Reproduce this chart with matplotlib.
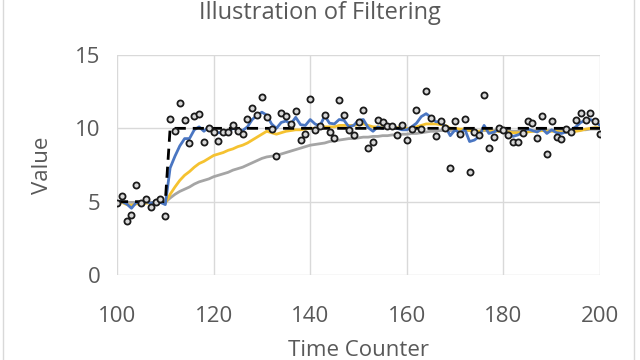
import matplotlib.pyplot as plt
from matplotlib.lines import Line2D
import numpy as np

# time counter 100..200
t = list(range(100, 201))

measured = [
    4.91, 5.41, 3.70, 4.11, 6.13, 4.89, 5.20, 4.64, 5.00, 5.18,   # 100-109
    4.00, 10.66, 9.84, 11.75, 10.60, 8.98, 10.84, 10.95, 9.05, 10.02,   # 110-119
    9.72, 9.13, 9.72, 9.72, 10.25, 9.84, 9.59, 10.66, 11.41, 10.93,   # 120-129
    12.15, 10.79, 9.97, 8.11, 11.02, 10.84, 10.27, 11.18, 9.18, 9.61,   # 130-139
    12.02, 9.86, 10.18, 10.93, 9.77, 9.36, 11.91, 10.93, 9.88, 9.54,   # 140-149
    10.43, 11.25, 8.63, 9.04, 10.57, 10.45, 10.16, 10.16, 9.54, 10.25,   # 150-159
    9.20, 9.97, 11.25, 9.93, 12.56, 10.70, 9.50, 10.48, 10.02, 7.27,   # 160-169
    10.48, 9.61, 10.63, 7.00, 9.73, 9.54, 12.27, 8.63, 9.38, 10.04,   # 170-179
    9.86, 9.52, 9.09, 9.09, 9.70, 10.48, 10.34, 9.32, 10.86, 8.25,   # 180-189
    10.50, 9.43, 9.27, 9.95, 9.77, 10.57, 11.07, 10.57, 11.02, 10.52,   # 190-199
    9.61,   # 200
]

# setpoint (dashed step)
setpoint = [5] * 11 + [10] * 90

# fast filter (blue)
fast = [
    5.0, 5.0, 4.85, 4.55, 4.95, 4.9, 5.0, 4.9, 5.0, 4.95,
    4.8, 7.3, 8.1, 8.8, 9.3, 9.3, 9.9, 10.1, 9.8, 10.1,
    9.8, 9.7, 9.7, 9.75, 10.0, 9.9, 9.85, 10.1, 10.6, 10.9,
    11.1, 10.9, 10.3, 10.0, 10.4, 10.5, 10.3, 10.75, 10.25, 10.2,
    10.6, 10.3, 10.15, 10.85, 10.35, 10.3, 10.6, 10.55, 10.1, 10.2,
    10.55, 10.6, 10.05, 9.8, 10.1, 10.0, 10.2, 10.2, 10.0, 9.9,
    9.9, 10.1, 10.35, 10.8, 11.0, 10.75, 10.45, 10.45, 10.1, 9.5,
    9.9, 9.65, 9.95, 9.1, 9.2, 9.45, 10.2, 9.65, 9.75, 9.9,
    9.85, 9.65, 9.45, 9.55, 9.7, 9.95, 9.85, 9.75, 10.0, 9.65,
    9.9, 9.7, 9.65, 9.75, 9.9, 10.1, 10.4, 10.55, 10.6, 10.45,
    10.2,
]

# medium filter (yellow)
medium = [
    5.0, 4.95, 4.8, 4.75, 4.85, 4.85, 4.9, 4.9, 4.95, 5.0,
    4.9, 5.5, 6.0, 6.45, 6.8, 7.05, 7.35, 7.6, 7.75, 7.95,
    8.15, 8.25, 8.35, 8.5, 8.6, 8.75, 8.85, 9.0, 9.2, 9.4,
    9.6, 9.8, 9.7, 9.6, 9.7, 9.8, 9.85, 9.9, 9.9, 9.95,
    10.0, 10.0, 10.0, 10.1, 10.1, 10.1, 10.2, 10.2, 10.2, 10.2,
    10.25, 10.3, 10.2, 10.1, 10.1, 10.1, 10.1, 10.1, 10.05, 10.0,
    10.0, 10.0, 10.1, 10.2, 10.3, 10.3, 10.3, 10.25, 10.2, 10.0,
    10.0, 9.95, 9.95, 9.85, 9.8, 9.8, 9.9, 9.85, 9.8, 9.8,
    9.8, 9.75, 9.7, 9.7, 9.7, 9.75, 9.8, 9.8, 9.85, 9.8,
    9.8, 9.8, 9.75, 9.75, 9.75, 9.8, 9.85, 9.95, 10.0, 10.05,
    10.05,
]

# slow filter (gray)
slow = [
    5.0, 5.0, 4.95, 4.95, 4.95, 4.95, 4.95, 4.95, 4.95, 4.95,
    4.95, 5.25, 5.5, 5.7, 5.85, 6.0, 6.2, 6.35, 6.45, 6.55,
    6.7, 6.8, 6.9, 7.0, 7.15, 7.25, 7.35, 7.5, 7.65, 7.8,
    7.95, 8.05, 8.1, 8.15, 8.25, 8.35, 8.45, 8.55, 8.65, 8.75,
    8.85, 8.9, 8.95, 9.0, 9.1, 9.15, 9.2, 9.25, 9.3, 9.3,
    9.35, 9.4, 9.4, 9.45, 9.45, 9.5, 9.5, 9.55, 9.55, 9.6,
    9.6, 9.65, 9.65, 9.7, 9.75, 9.8, 9.8, 9.85, 9.85, 9.85,
    9.85, 9.85, 9.85, 9.85, 9.8, 9.8, 9.85, 9.85, 9.85, 9.85,
    9.85, 9.8, 9.8, 9.8, 9.8, 9.8, 9.8, 9.85, 9.85, 9.85,
    9.85, 9.85, 9.85, 9.85, 9.85, 9.85, 9.9, 9.9, 9.95, 9.95,
    9.95,
]

plt.rcParams['font.family'] = ['Open Sans', 'DejaVu Sans']
txt = '#595959'

fig = plt.figure(figsize=(6.4, 3.6), dpi=100)
ax = fig.add_axes([117 / 640, 85 / 360, 483 / 640, 220 / 360])

ax.plot(t, slow, color='#a5a5a5', lw=2, zorder=3)
ax.plot(t, medium, color='#f5c230', lw=2, zorder=4)
ax.plot(t, fast, color='#4a76c2', lw=2, zorder=5)
ax.plot(t, setpoint, color='black', lw=2, ls=(0, (4, 2.5)), zorder=6)
ax.plot(t, measured, ls='none', marker='o', ms=4.4, mfc='#d8d8d8',
        mec='#1a1a1a', mew=1.3, zorder=7)

ax.set_xlim(100, 200)
ax.set_ylim(0, 15)
ax.set_xticks([100, 120, 140, 160, 180, 200])
ax.set_yticks([0, 5, 10, 15])
ax.grid(True, color='#d9d9d9', lw=1)
ax.set_axisbelow(True)
for s in ax.spines.values():
    s.set_visible(False)
ax.tick_params(length=0, labelsize=16, labelcolor=txt)
ax.tick_params(axis='x', pad=22)
ax.tick_params(axis='y', pad=12)

ax.set_xlabel('Time Counter', fontsize=16, color=txt, labelpad=10)
ax.set_ylabel('Value', fontsize=16, color=txt, labelpad=16)
fig.text(0.5, 1 - 13 / 360, 'Illustration of Filtering', ha='center',
         va='center', fontsize=17, color=txt)

# chart border
fig.add_artist(Line2D([3 / 640, 3 / 640], [0, 1], color='#d9d9d9', lw=1))
fig.add_artist(Line2D([634 / 640, 634 / 640], [0, 1], color='#d9d9d9', lw=1))

fig.savefig('out.png', dpi=100)
